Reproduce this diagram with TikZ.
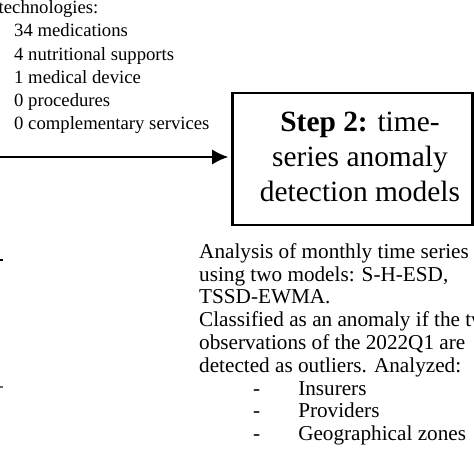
\documentclass[tikz,border=0pt]{standalone}
\usepackage{fontspec}
\setmainfont{Liberation Serif}
\usetikzlibrary{arrows.meta,positioning}

\begin{document}
\begin{tikzpicture}[
x=1pt, y=-1pt,
listnode/.style={inner sep=0pt, anchor=north west, align=left, font=\fontsize{18.7}{23.2}\selectfont},
stepbox/.style={rectangle, draw, line width=2.8pt, inner sep=0pt, minimum width=240pt, minimum height=132pt},
steptext/.style={inner sep=0pt, align=center, font=\fontsize{29.4}{35}\selectfont},
notenode/.style={inner sep=0pt, anchor=north west, align=left, font=\fontsize{21.2}{22.8}\selectfont}]
\useasboundingbox (0,0) rectangle (474,474);
% Nodes
\node[listnode] (tech) at (-1.5,0.5) {technologies:\\
\hspace*{15.5pt}34 medications\\
\hspace*{15.5pt}4 nutritional supports\\
\hspace*{15.5pt}1 medical device\\
\hspace*{15.5pt}0 procedures\\
\hspace*{15.5pt}0 complementary services};
\node[stepbox] (step2) at (352.6,159) {};
\node[steptext] (step2text) at (360,156.6) {\textbf{Step 2:} time-\\series anomaly\\detection models};
\node[notenode] (notes) at (199,243.2) {Analysis of monthly time series\\
using two models: S-H-ESD,\\
TSSD-EWMA.\\
Classified as an anomaly if the two\\
observations of the 2022Q1 are\\
detected as outliers. Analyzed:\\
\hspace*{54pt}-\hspace*{38pt}Insurers\\
\hspace*{54pt}-\hspace*{38pt}Providers\\
\hspace*{54pt}-\hspace*{38pt}Geographical zones};
\coordinate (in) at (-10,157);
% Lines
\draw[line width=1.5pt, shorten >=3pt, arrows={-Latex[length=16pt,width=15pt]}] (in) -- (in -| step2.west);
\draw[line width=1.5pt] (-1,260) -- (3,260);
\draw[line width=1.2pt, black!60] (-1,387) -- (2.5,387);
\end{tikzpicture}
\end{document}
